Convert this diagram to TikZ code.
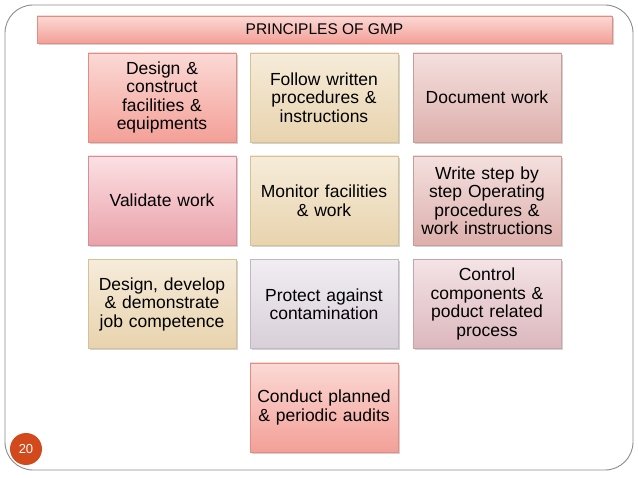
\documentclass[tikz,border=0pt]{standalone}
\usepackage{fontspec}
\setmainfont{Liberation Sans}
\usetikzlibrary{shadows}
\definecolor{frame}{HTML}{8C8C8C}
\definecolor{salT}{HTML}{FBD9D5}\definecolor{salB}{HTML}{F3A097}\definecolor{salD}{HTML}{E38C84}
\definecolor{begT}{HTML}{F6ECDA}\definecolor{begB}{HTML}{E8D3AD}\definecolor{begD}{HTML}{D6C098}
\definecolor{dusT}{HTML}{F4E0DE}\definecolor{dusB}{HTML}{DCAFAB}\definecolor{dusD}{HTML}{C99C98}
\definecolor{rosT}{HTML}{FBE0E3}\definecolor{rosB}{HTML}{EAA2AA}\definecolor{rosD}{HTML}{D88E96}
\definecolor{lavT}{HTML}{F1EDF2}\definecolor{lavB}{HTML}{D8CFD9}\definecolor{lavD}{HTML}{C2B8C4}
\definecolor{mauT}{HTML}{F4E3E6}\definecolor{mauB}{HTML}{DBB7BD}\definecolor{mauD}{HTML}{C8A3A9}
\definecolor{badge}{HTML}{D24A1C}
\begin{document}
\begin{tikzpicture}[x=1pt,y=-1pt,
  gbox/.style={rectangle, minimum width=148pt, minimum height=89pt, inner sep=2pt,
    text width=142pt, align=center, font=\fontsize{17.5}{18.5}\selectfont,
    drop shadow={shadow xshift=1.5pt, shadow yshift=-1.8pt, opacity=0.35, fill=gray}},
  sal/.style={gbox, top color=salT, bottom color=salB, draw=salD},
  beg/.style={gbox, top color=begT, bottom color=begB, draw=begD},
  dus/.style={gbox, top color=dusT, bottom color=dusB, draw=dusD},
  ros/.style={gbox, top color=rosT, bottom color=rosB, draw=rosD},
  lav/.style={gbox, top color=lavT, bottom color=lavB, draw=lavD},
  mau/.style={gbox, top color=mauT, bottom color=mauB, draw=mauD},
  titlebar/.style={rectangle, minimum width=575pt, minimum height=27pt, inner sep=0pt,
    top color=salT, bottom color=salB, draw=salD, font=\fontsize{15.5}{17}\selectfont,
    drop shadow={shadow xshift=1.5pt, shadow yshift=-1.8pt, opacity=0.35, fill=gray}},
  badgest/.style={circle, fill=badge, minimum size=32pt, inner sep=0pt, text=white,
    font=\fontsize{13}{15}\selectfont}
]
\fill[white] (0,0) rectangle (638,478);
\useasboundingbox (0,0) rectangle (638,478);
\draw[frame, line width=0.9pt, rounded corners=28pt] (5,5) rectangle (633,470);
\node[titlebar] (title) at (324.5,29.5) {PRINCIPLES OF GMP};
\node[sal] (b11) at (162,97.5) {Design \&\\ construct\\ facilities \&\\ equipments};
\node[beg] (b12) at (324,97.5) {Follow written\\ procedures \&\\ instructions};
\node[dus] (b13) at (487,97.5) {Document work};
\node[ros] (b21) at (162,200.5) {Validate work};
\node[beg] (b22) at (324,200.5) {Monitor facilities\\ \& work};
\node[dus] (b23) at (487,200.5) {Write step by\\ step Operating\\ procedures \&\\ work instructions};
\node[beg] (b31) at (162,304) {Design, develop\\ \& demonstrate\\ job competence};
\node[lav] (b32) at (324,304) {Protect against\\ contamination};
\node[mau] (b33) at (487,304) {Control\\ components \&\\ poduct related\\ process};
\node[sal] (b42) at (324,407.5) {Conduct planned\\ \& periodic audits};
\node[badgest] (num) at (26,449) {20};
\end{tikzpicture}
\end{document}
